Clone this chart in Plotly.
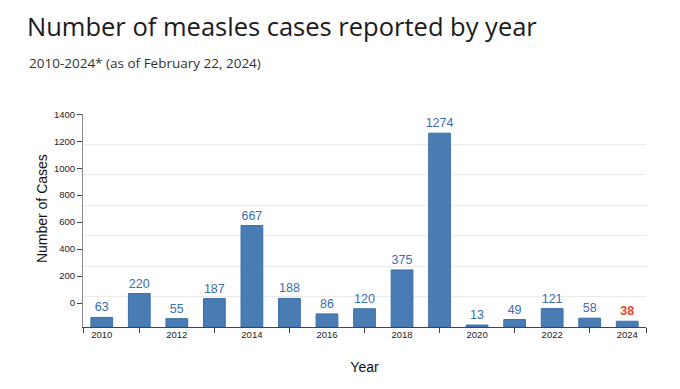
import plotly.graph_objects as go

# ---- data ----
years = list(range(2010, 2025))
cases = [63, 220, 55, 187, 667, 188, 86, 120, 375, 1274, 13, 49, 121, 58, 38]
label_years = [2010, 2012, 2014, 2016, 2018, 2020, 2022, 2024]
label_text = [str(y) for y in label_years]
minor_years = [2011, 2013, 2015, 2017, 2019, 2021, 2023]
y_ticks = [0, 200, 400, 600, 800, 1000, 1200, 1400]

title_text = "Number of measles cases reported by year"
subtitle_text = "2010-2024* (as of February 22, 2024)"

# ---- styles ----
BAR = "#4a7cb4"
BAR_EDGE = "#3e6fa9"
LBL = "#3a6db5"
RED = "#e6472b"
AX_FONT = "Liberation Sans, Arial, Helvetica, sans-serif"
W, H = 680, 389
L, R, T, B = 83, 34, 114, 62
pw, ph = W - L - R, H - T - B

def px_x(p):
    return (p - L) / pw

def px_y(p):
    return (H - B - p) / ph

label_colors = [LBL] * (len(cases) - 1) + [RED]
texts = [str(c) for c in cases[:-1]] + [f"<b>{cases[-1]}</b>"]

fig = go.Figure()
fig.add_trace(go.Bar(
    x=years, y=cases, width=0.58,
    marker=dict(color=BAR, line=dict(color=BAR_EDGE, width=1)),
    text=texts, textposition="outside", constraintext="none",
    textfont=dict(color=label_colors, size=12.5, family=AX_FONT),
    cliponaxis=False, hoverinfo="skip", showlegend=False,
))
# carrier trace for the labelled overlay axes (draws nothing)
fig.add_trace(go.Scatter(x=years, y=cases, xaxis="x2", yaxis="y2",
                         mode="none", showlegend=False, hoverinfo="skip"))

fig.update_layout(
    width=W, height=H,
    margin=dict(l=L, r=R, t=T, b=B),
    plot_bgcolor="white", paper_bgcolor="white",
    showlegend=False,
    font=dict(family=AX_FONT, color="#222"),
    title=dict(text=title_text, x=27 / W, xanchor="left", xref="container",
               y=1 - 27.5 / H, yanchor="middle", yref="container",
               font=dict(family="Open Sans, sans-serif", size=25.5, color="#1b1b1b")),
    xaxis=dict(range=[2009.5, 2024.5], tickvals=[2009.5] + minor_years + [2024.5],
               ticks="outside", ticklen=5, tickcolor="#444", showticklabels=False,
               showline=True, linecolor="#444", linewidth=1, showgrid=False, zeroline=False),
    xaxis2=dict(overlaying="x", anchor="y", side="bottom", range=[2009.5, 2024.5],
                tickvals=label_years, ticktext=label_text, ticks="",
                showline=False, showgrid=False, zeroline=False,
                tickfont=dict(size=9.5, color="#222"),
                title=dict(text="Year", font=dict(size=14, color="#111"), standoff=23)),
    yaxis=dict(range=[0, 1400], tickvals=y_ticks, showgrid=True, gridcolor="#ebebeb",
               showticklabels=False, ticks="", showline=True, linecolor="#8a8a8a",
               zeroline=False),
    yaxis2=dict(overlaying="y", anchor="x", side="left", range=[-178, 1402],
                tickvals=y_ticks, ticks="outside", ticklen=5, tickcolor="#444",
                showline=False, showgrid=False, zeroline=False,
                tickfont=dict(size=9.5, color="#222")),
    annotations=[
        dict(text=subtitle_text, xref="paper", yref="paper", x=px_x(27), y=px_y(63),
             xanchor="left", yanchor="middle", showarrow=False,
             font=dict(family="Open Sans, sans-serif", size=13.5, color="#333")),
        dict(text="Number of Cases", xref="paper", yref="paper", x=px_x(41.5), y=px_y(208.6),
             xanchor="center", yanchor="middle", textangle=-90, showarrow=False,
             font=dict(family=AX_FONT, size=14, color="#111")),
    ],
)

fig.write_html("out.html", config={"displayModeBar": False, "staticPlot": True},
               post_script="document.body.style.margin='0';")
